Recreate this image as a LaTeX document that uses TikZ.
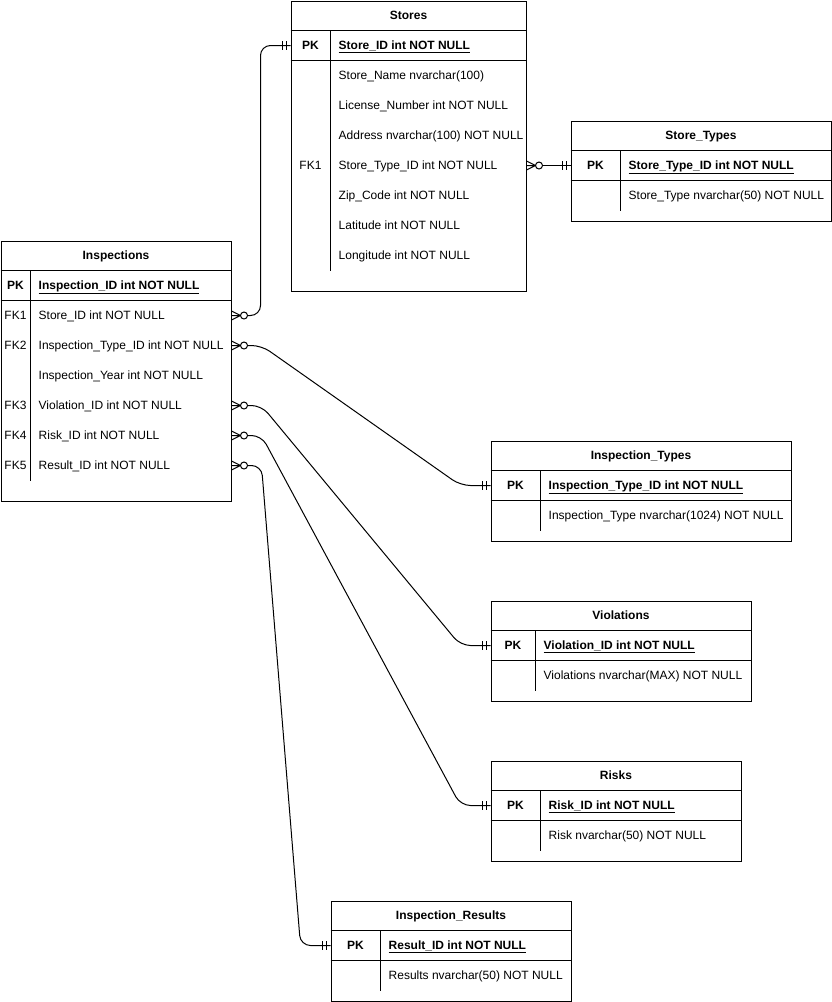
\documentclass[tikz,border=0pt]{standalone}
\usepackage{fontspec}
\setmainfont{Liberation Sans}
\usetikzlibrary{calc}

\begin{document}
\begin{tikzpicture}[
    x=1pt, y=-1pt,
    % Node styles
    entity/.style={rectangle, draw, line width=1pt, fill=white, inner sep=0pt, anchor=north west},
    title/.style={font=\fontsize{12}{14}\selectfont\bfseries, text height=8.6pt, text depth=0.8pt, inner sep=0pt},
    keycell/.style={font=\fontsize{12}{14}\selectfont, text height=8.6pt, text depth=0.8pt, inner sep=0pt},
    pkcell/.style={keycell, font=\fontsize{12}{14}\selectfont\bfseries},
    field/.style={keycell, anchor=west},
    pkfield/.style={field, font=\fontsize{12}{14}\selectfont\bfseries},
    rule/.style={line width=1pt},
    rel/.style={line width=1pt, rounded corners=10pt},
    % Relationship ends
    manyzero/.pic={
        \draw[line width=1pt] (0,-4.5) -- (9,0) -- (0,4.5) (0,0) -- (9,0);
        \draw[line width=1pt, fill=white] (12.5,0) circle[radius=3.5pt];
    },
    onlyone/.pic={
        \draw[line width=1pt] (-8,-4.5) -- (-8,4.5) (-4,-4.5) -- (-4,4.5);
    },
]
\useasboundingbox (0,0) rectangle (831,1002);

% Stores table
\node[entity, minimum width=235pt, minimum height=290pt] (stores) at (290.5,0.5) {};
\draw[rule] ([yshift=-30pt]stores.north west) -- ([yshift=-30pt]stores.north east);
\draw[rule] ([yshift=-60pt]stores.north west) -- ([yshift=-60pt]stores.north east);
\draw[rule] ([xshift=40pt, yshift=-30pt]stores.north west) -- ([xshift=40pt, yshift=-270pt]stores.north west);
\node[title] (stores-title) at ([yshift=-15pt]stores.north) {Stores};
\node[pkcell] (stores-pk) at ([xshift=20pt, yshift=-45pt]stores.north west) {PK};
\node[pkfield] (stores-id) at ([xshift=48pt, yshift=-45pt]stores.north west) {\underline{Store\_ID int NOT NULL}};
\node[field] (stores-name) at ([xshift=48pt, yshift=-75pt]stores.north west) {Store\_Name nvarchar(100)};
\node[field] (stores-lic) at ([xshift=48pt, yshift=-105pt]stores.north west) {License\_Number int NOT NULL};
\node[field] (stores-addr) at ([xshift=48pt, yshift=-135pt]stores.north west) {Address nvarchar(100) NOT NULL};
\node[keycell] (stores-fk1) at ([xshift=20pt, yshift=-165pt]stores.north west) {FK1};
\node[field] (stores-type) at ([xshift=48pt, yshift=-165pt]stores.north west) {Store\_Type\_ID int NOT NULL};
\node[field] (stores-zip) at ([xshift=48pt, yshift=-195pt]stores.north west) {Zip\_Code int NOT NULL};
\node[field] (stores-lat) at ([xshift=48pt, yshift=-225pt]stores.north west) {Latitude int NOT NULL};
\node[field] (stores-lon) at ([xshift=48pt, yshift=-255pt]stores.north west) {Longitude int NOT NULL};

% Store_Types table
\node[entity, minimum width=260pt, minimum height=100pt] (stypes) at (570.5,120.5) {};
\draw[rule] ([yshift=-30pt]stypes.north west) -- ([yshift=-30pt]stypes.north east);
\draw[rule] ([yshift=-60pt]stypes.north west) -- ([yshift=-60pt]stypes.north east);
\draw[rule] ([xshift=50pt, yshift=-30pt]stypes.north west) -- ([xshift=50pt, yshift=-90pt]stypes.north west);
\node[title] (stypes-title) at ([yshift=-15pt]stypes.north) {Store\_Types};
\node[pkcell] (stypes-pk) at ([xshift=25pt, yshift=-45pt]stypes.north west) {PK};
\node[pkfield] (stypes-id) at ([xshift=58pt, yshift=-45pt]stypes.north west) {\underline{Store\_Type\_ID int NOT NULL}};
\node[field] (stypes-name) at ([xshift=58pt, yshift=-75pt]stypes.north west) {Store\_Type nvarchar(50) NOT NULL};

% Inspections table
\node[entity, minimum width=230pt, minimum height=260pt] (insp) at (0.5,240.5) {};
\draw[rule] ([yshift=-30pt]insp.north west) -- ([yshift=-30pt]insp.north east);
\draw[rule] ([yshift=-60pt]insp.north west) -- ([yshift=-60pt]insp.north east);
\draw[rule] ([xshift=30pt, yshift=-30pt]insp.north west) -- ([xshift=30pt, yshift=-240pt]insp.north west);
\node[title] (insp-title) at ([yshift=-15pt]insp.north) {Inspections};
\node[pkcell] (insp-pk) at ([xshift=15pt, yshift=-45pt]insp.north west) {PK};
\node[pkfield] (insp-id) at ([xshift=38pt, yshift=-45pt]insp.north west) {\underline{Inspection\_ID int NOT NULL}};
\node[keycell] (insp-fk1) at ([xshift=15pt, yshift=-75pt]insp.north west) {FK1};
\node[field] (insp-store) at ([xshift=38pt, yshift=-75pt]insp.north west) {Store\_ID int NOT NULL};
\node[keycell] (insp-fk2) at ([xshift=15pt, yshift=-105pt]insp.north west) {FK2};
\node[field] (insp-type) at ([xshift=38pt, yshift=-105pt]insp.north west) {Inspection\_Type\_ID int NOT NULL};
\node[field] (insp-year) at ([xshift=38pt, yshift=-135pt]insp.north west) {Inspection\_Year int NOT NULL};
\node[keycell] (insp-fk3) at ([xshift=15pt, yshift=-165pt]insp.north west) {FK3};
\node[field] (insp-viol) at ([xshift=38pt, yshift=-165pt]insp.north west) {Violation\_ID int NOT NULL};
\node[keycell] (insp-fk4) at ([xshift=15pt, yshift=-195pt]insp.north west) {FK4};
\node[field] (insp-risk) at ([xshift=38pt, yshift=-195pt]insp.north west) {Risk\_ID int NOT NULL};
\node[keycell] (insp-fk5) at ([xshift=15pt, yshift=-225pt]insp.north west) {FK5};
\node[field] (insp-result) at ([xshift=38pt, yshift=-225pt]insp.north west) {Result\_ID int NOT NULL};

% Inspection_Types table
\node[entity, minimum width=300pt, minimum height=100pt] (itypes) at (490.5,440.5) {};
\draw[rule] ([yshift=-30pt]itypes.north west) -- ([yshift=-30pt]itypes.north east);
\draw[rule] ([yshift=-60pt]itypes.north west) -- ([yshift=-60pt]itypes.north east);
\draw[rule] ([xshift=50pt, yshift=-30pt]itypes.north west) -- ([xshift=50pt, yshift=-90pt]itypes.north west);
\node[title] (itypes-title) at ([yshift=-15pt]itypes.north) {Inspection\_Types};
\node[pkcell] (itypes-pk) at ([xshift=25pt, yshift=-45pt]itypes.north west) {PK};
\node[pkfield] (itypes-id) at ([xshift=58pt, yshift=-45pt]itypes.north west) {\underline{Inspection\_Type\_ID int NOT NULL}};
\node[field] (itypes-name) at ([xshift=58pt, yshift=-75pt]itypes.north west) {Inspection\_Type nvarchar(1024) NOT NULL};

% Violations table
\node[entity, minimum width=260pt, minimum height=100pt] (viol) at (490.5,600.5) {};
\draw[rule] ([yshift=-30pt]viol.north west) -- ([yshift=-30pt]viol.north east);
\draw[rule] ([yshift=-60pt]viol.north west) -- ([yshift=-60pt]viol.north east);
\draw[rule] ([xshift=45pt, yshift=-30pt]viol.north west) -- ([xshift=45pt, yshift=-90pt]viol.north west);
\node[title] (viol-title) at ([yshift=-15pt]viol.north) {Violations};
\node[pkcell] (viol-pk) at ([xshift=22.5pt, yshift=-45pt]viol.north west) {PK};
\node[pkfield] (viol-id) at ([xshift=53pt, yshift=-45pt]viol.north west) {\underline{Violation\_ID int NOT NULL}};
\node[field] (viol-name) at ([xshift=53pt, yshift=-75pt]viol.north west) {Violations nvarchar(MAX) NOT NULL};

% Risks table
\node[entity, minimum width=250pt, minimum height=100pt] (risks) at (490.5,760.5) {};
\draw[rule] ([yshift=-30pt]risks.north west) -- ([yshift=-30pt]risks.north east);
\draw[rule] ([yshift=-60pt]risks.north west) -- ([yshift=-60pt]risks.north east);
\draw[rule] ([xshift=50pt, yshift=-30pt]risks.north west) -- ([xshift=50pt, yshift=-90pt]risks.north west);
\node[title] (risks-title) at ([yshift=-15pt]risks.north) {Risks};
\node[pkcell] (risks-pk) at ([xshift=25pt, yshift=-45pt]risks.north west) {PK};
\node[pkfield] (risks-id) at ([xshift=58pt, yshift=-45pt]risks.north west) {\underline{Risk\_ID int NOT NULL}};
\node[field] (risks-name) at ([xshift=58pt, yshift=-75pt]risks.north west) {Risk nvarchar(50) NOT NULL};

% Inspection_Results table
\node[entity, minimum width=240pt, minimum height=100pt] (results) at (330.5,900.5) {};
\draw[rule] ([yshift=-30pt]results.north west) -- ([yshift=-30pt]results.north east);
\draw[rule] ([yshift=-60pt]results.north west) -- ([yshift=-60pt]results.north east);
\draw[rule] ([xshift=50pt, yshift=-30pt]results.north west) -- ([xshift=50pt, yshift=-90pt]results.north west);
\node[title] (results-title) at ([yshift=-15pt]results.north) {Inspection\_Results};
\node[pkcell] (results-pk) at ([xshift=25pt, yshift=-45pt]results.north west) {PK};
\node[pkfield] (results-id) at ([xshift=58pt, yshift=-45pt]results.north west) {\underline{Result\_ID int NOT NULL}};
\node[field] (results-name) at ([xshift=58pt, yshift=-75pt]results.north west) {Results nvarchar(50) NOT NULL};

% Relationships
\draw[rel] ($(stores-fk1 -| stores.east)+(16,0)$) -- (stypes-pk -| stypes.west);
\draw[rel] ($(insp-fk1 -| insp.east)+(16,0)$) -| ($(stores-pk -| stores.west)+(-30,0)$) -- (stores-pk -| stores.west);
\draw[rel] ($(insp-fk2 -| insp.east)+(16,0)$) -- ++(14,0) -- ($(itypes-pk -| itypes.west)+(-30,0)$) -- (itypes-pk -| itypes.west);
\draw[rel] ($(insp-fk3 -| insp.east)+(16,0)$) -- ++(14,0) -- ($(viol-pk -| viol.west)+(-30,0)$) -- (viol-pk -| viol.west);
\draw[rel] ($(insp-fk4 -| insp.east)+(16,0)$) -- ++(14,0) -- ($(risks-pk -| risks.west)+(-30,0)$) -- (risks-pk -| risks.west);
\draw[rel] ($(insp-fk5 -| insp.east)+(16,0)$) -- ++(14,0) -- ($(results-pk -| results.west)+(-30,0)$) -- (results-pk -| results.west);

% Relationship ends
\pic at (stores-fk1 -| stores.east) {manyzero};
\pic at (insp-fk1 -| insp.east) {manyzero};
\pic at (insp-fk2 -| insp.east) {manyzero};
\pic at (insp-fk3 -| insp.east) {manyzero};
\pic at (insp-fk4 -| insp.east) {manyzero};
\pic at (insp-fk5 -| insp.east) {manyzero};
\pic at (stypes-pk -| stypes.west) {onlyone};
\pic at (stores-pk -| stores.west) {onlyone};
\pic at (itypes-pk -| itypes.west) {onlyone};
\pic at (viol-pk -| viol.west) {onlyone};
\pic at (risks-pk -| risks.west) {onlyone};
\pic at (results-pk -| results.west) {onlyone};

\end{tikzpicture}
\end{document}
